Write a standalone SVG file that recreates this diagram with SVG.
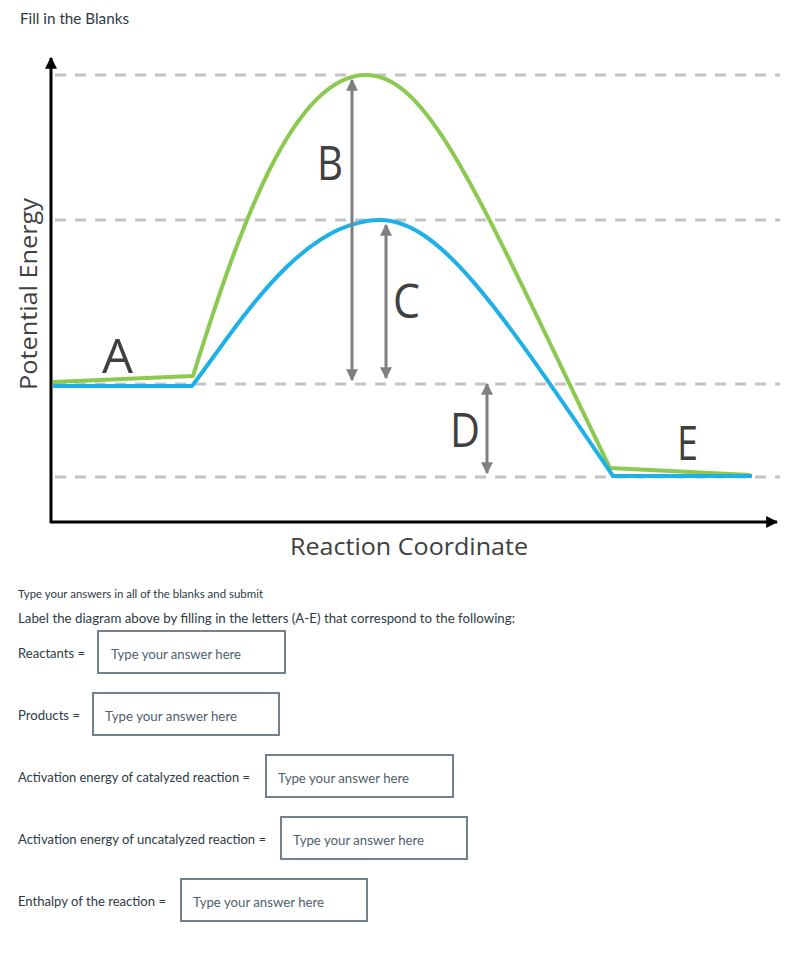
<svg xmlns="http://www.w3.org/2000/svg" width="794" height="962" viewBox="0 0 794 962">
<defs>
<style>
.ui{font-family:Lato,"Noto Sans","Liberation Sans",sans-serif;fill:#2d3b45}
.ph{font-family:Lato,"Noto Sans","Liberation Sans",sans-serif;fill:#4f5f6c;font-size:14px}
.box{fill:#fff;stroke:#73818c;stroke-width:2}
.dash{stroke:#c4c4c4;stroke-width:3;stroke-dasharray:11 9;fill:none}
.let{font-family:"Open Sans","Liberation Sans",sans-serif;fill:#404040;font-size:48px}
.axl{font-family:"Open Sans","Liberation Sans",sans-serif;fill:#404040;font-size:24px}
.arr{stroke:#808080;stroke-width:3;fill:none}
</style>
<marker id="ga" viewBox="0 0 10 10" refX="9" refY="5" markerWidth="4" markerHeight="4.5" orient="auto-start-reverse" markerUnits="strokeWidth"><path d="M0,0 L10,5 L0,10 z" fill="#808080"/></marker>
<marker id="ka" viewBox="0 0 10 10" refX="9" refY="5" markerWidth="4" markerHeight="4" orient="auto" markerUnits="strokeWidth"><path d="M0,0 L10,5 L0,10 z" fill="#000"/></marker>
</defs>
<rect width="794" height="962" fill="#fff"/>
<text class="ui" x="20" y="24" font-size="15" textLength="109" lengthAdjust="spacingAndGlyphs">Fill in the Blanks</text>

<g id="chart">
<g id="guides">
<line class="dash" x1="55" y1="75" x2="780" y2="75"/>
<line class="dash" x1="55" y1="220" x2="780" y2="220"/>
<line class="dash" x1="55" y1="384" x2="780" y2="384"/>
<line class="dash" x1="55" y1="477" x2="780" y2="477"/>
</g>
<g id="axes">
<line x1="51" y1="523" x2="51" y2="58" stroke="#000" stroke-width="3" marker-end="url(#ka)"/>
<line x1="50" y1="522" x2="777" y2="522" stroke="#000" stroke-width="3" marker-end="url(#ka)"/>
<text class="axl" transform="translate(37,390) rotate(-90)" x="0" y="0" textLength="192" lengthAdjust="spacingAndGlyphs">Potential Energy</text>
<text class="axl" x="290" y="555" textLength="238" lengthAdjust="spacingAndGlyphs">Reaction Coordinate</text>
</g>
<g id="curves">
<path d="M53,382 L193,376 C238,232 292,75 366,75 C430,75 480,200 610,468 L750,475" fill="none" stroke="#8cc951" stroke-width="4" stroke-linejoin="round"/>
<path d="M53,386 L192,386 C235,330 300,220 380,220 C440,220 500,310 613,476 L752,476" fill="none" stroke="#20b0e8" stroke-width="4" stroke-linejoin="round"/>
</g>
<g id="connectors">
<line class="arr" x1="352" y1="80" x2="352" y2="380" marker-start="url(#ga)" marker-end="url(#ga)"/>
<line class="arr" x1="386" y1="225" x2="386" y2="378" marker-start="url(#ga)" marker-end="url(#ga)"/>
<line class="arr" x1="487" y1="384" x2="487" y2="473" marker-start="url(#ga)" marker-end="url(#ga)"/>
</g>
<g id="labels">
<text class="let" x="102" y="373" textLength="31" lengthAdjust="spacingAndGlyphs">A</text>
<text class="let" x="317" y="180" textLength="26" lengthAdjust="spacingAndGlyphs">B</text>
<text class="let" x="393" y="318" textLength="27" lengthAdjust="spacingAndGlyphs">C</text>
<text class="let" x="450" y="447" textLength="30" lengthAdjust="spacingAndGlyphs">D</text>
<text class="let" x="677" y="460" textLength="21" lengthAdjust="spacingAndGlyphs">E</text>
</g>
</g>

<g id="form">
<text class="ui" x="18" y="598" font-size="11.5" textLength="245" lengthAdjust="spacingAndGlyphs">Type your answers in all of the blanks and submit</text>
<text class="ui" x="18" y="623" font-size="14" textLength="497" lengthAdjust="spacingAndGlyphs">Label the diagram above by filling in the letters (A-E) that correspond to the following:</text>
<g id="q1">
<text class="ui" x="18" y="658" font-size="13" textLength="67" lengthAdjust="spacingAndGlyphs">Reactants =</text>
<rect class="box" x="98" y="631" width="187" height="42"/>
<text class="ph" x="111" y="659" textLength="130" lengthAdjust="spacingAndGlyphs">Type your answer here</text>
</g>
<g id="q2">
<text class="ui" x="18" y="720" font-size="13" textLength="62" lengthAdjust="spacingAndGlyphs">Products =</text>
<rect class="box" x="93" y="693" width="186" height="42"/>
<text class="ph" x="105" y="721" textLength="132" lengthAdjust="spacingAndGlyphs">Type your answer here</text>
</g>
<g id="q3">
<text class="ui" x="18" y="782" font-size="13" textLength="232" lengthAdjust="spacingAndGlyphs">Activation energy of catalyzed reaction =</text>
<rect class="box" x="266" y="755" width="187" height="42"/>
<text class="ph" x="278" y="783" textLength="131" lengthAdjust="spacingAndGlyphs">Type your answer here</text>
</g>
<g id="q4">
<text class="ui" x="18" y="844" font-size="13" textLength="248" lengthAdjust="spacingAndGlyphs">Activation energy of uncatalyzed reaction =</text>
<rect class="box" x="281" y="817" width="186" height="42"/>
<text class="ph" x="293" y="845" textLength="131" lengthAdjust="spacingAndGlyphs">Type your answer here</text>
</g>
<g id="q5">
<text class="ui" x="18" y="906" font-size="13" textLength="148" lengthAdjust="spacingAndGlyphs">Enthalpy of the reaction =</text>
<rect class="box" x="181" y="879" width="186" height="42"/>
<text class="ph" x="193" y="907" textLength="131" lengthAdjust="spacingAndGlyphs">Type your answer here</text>
</g>
</g>
</svg>
